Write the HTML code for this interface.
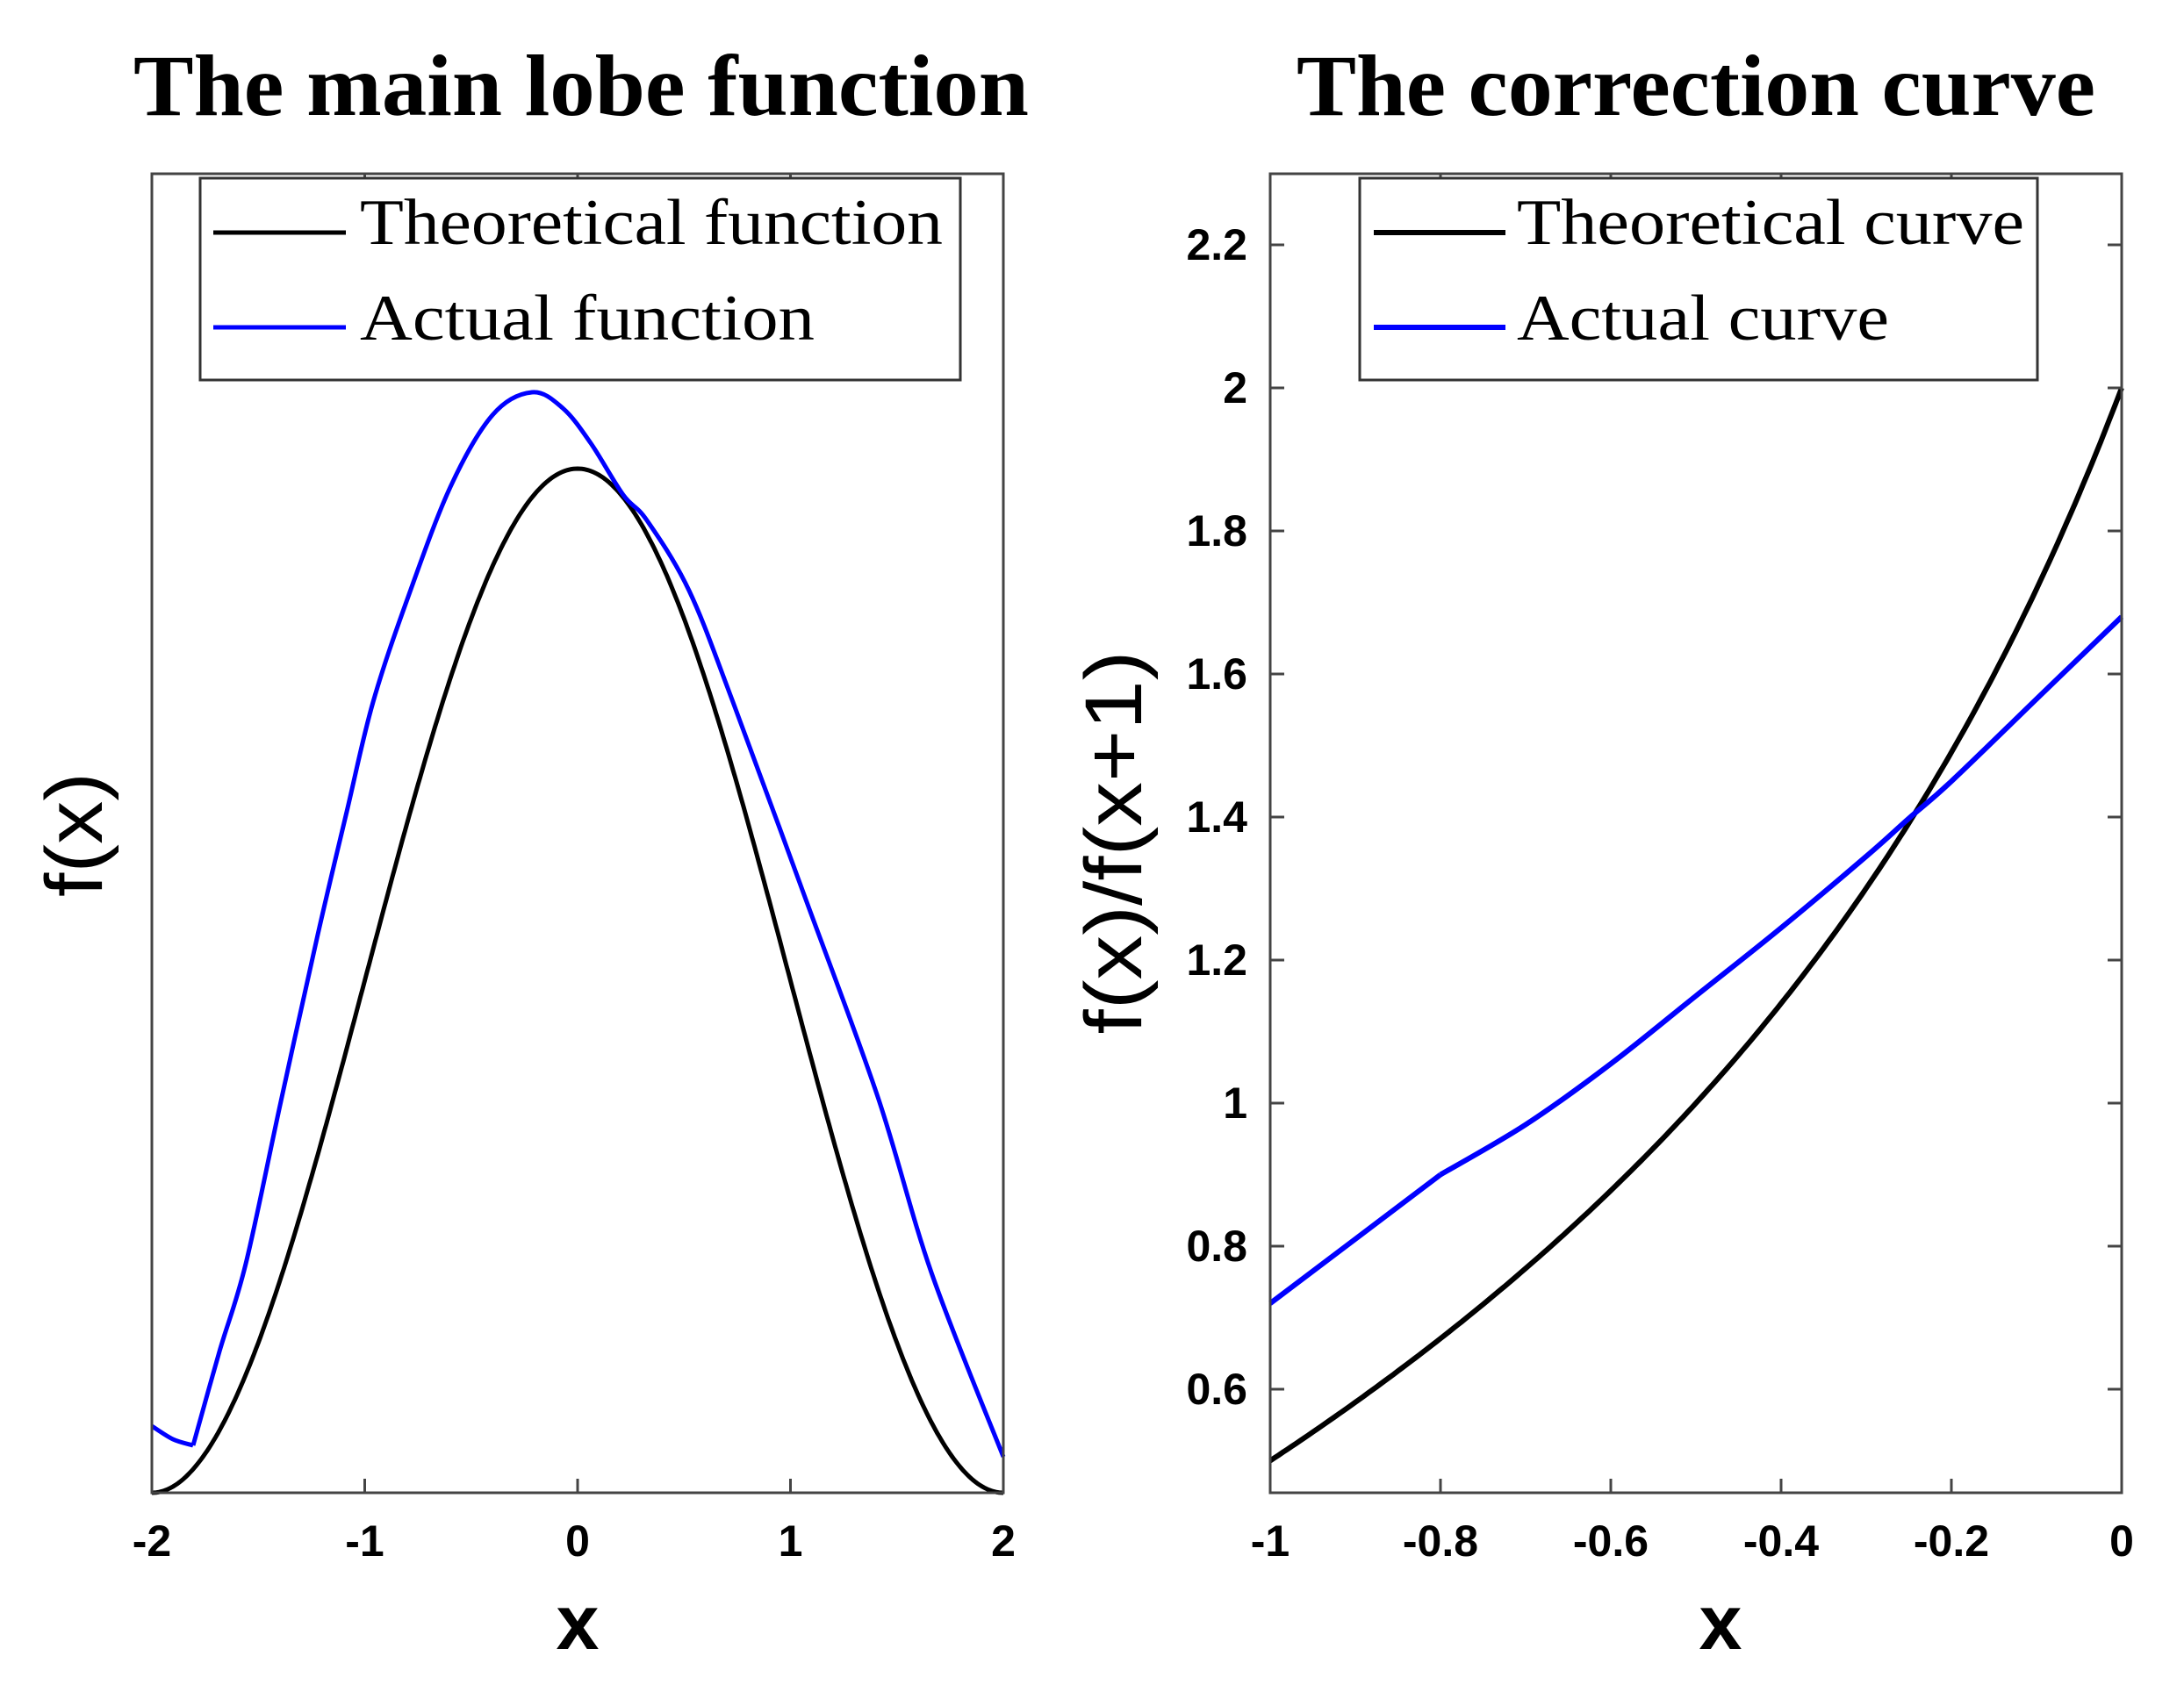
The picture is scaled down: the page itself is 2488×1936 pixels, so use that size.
<!DOCTYPE html>
<html><head><meta charset="utf-8"><style>
html,body{margin:0;padding:0;background:#fff;}
svg{display:block;}
</style></head><body>
<svg id="s" width="2488" height="1936" viewBox="0 0 2488 1936" xmlns="http://www.w3.org/2000/svg">
<rect width="2488" height="1936" fill="#fff"/>
<text x="662" y="131" font-family="Liberation Serif, serif" font-weight="bold" font-size="100" text-anchor="middle" textLength="1020" lengthAdjust="spacingAndGlyphs">The main lobe function</text>
<text x="1932" y="131" font-family="Liberation Serif, serif" font-weight="bold" font-size="100" text-anchor="middle" textLength="910" lengthAdjust="spacingAndGlyphs">The correction curve</text>

<g id="left"></g>
<g id="right"></g>

<rect x="173" y="198" width="970" height="1503" fill="none" stroke="#444" stroke-width="3"/>
<rect x="1447" y="198" width="970" height="1503" fill="none" stroke="#444" stroke-width="3"/>
<g id="ticks" stroke="#444" stroke-width="3"></g>

<rect x="228" y="203" width="866" height="230" fill="#fff" stroke="#333" stroke-width="3"/>
<line x1="243" y1="265" x2="394" y2="265" stroke="#000" stroke-width="5"/>
<line x1="243" y1="373" x2="394" y2="373" stroke="#00f" stroke-width="5"/>
<text x="410" y="278" font-family="Liberation Serif, serif" font-size="74" textLength="664" lengthAdjust="spacingAndGlyphs">Theoretical function</text>
<text x="410" y="387" font-family="Liberation Serif, serif" font-size="74" textLength="518" lengthAdjust="spacingAndGlyphs">Actual function</text>

<rect x="1549" y="203" width="772" height="230" fill="#fff" stroke="#333" stroke-width="3"/>
<line x1="1565" y1="265" x2="1715" y2="265" stroke="#000" stroke-width="6"/>
<line x1="1565" y1="373" x2="1715" y2="373" stroke="#00f" stroke-width="6"/>
<text x="1728" y="278" font-family="Liberation Serif, serif" font-size="74" textLength="578" lengthAdjust="spacingAndGlyphs">Theoretical curve</text>
<text x="1728" y="387" font-family="Liberation Serif, serif" font-size="74" textLength="424" lengthAdjust="spacingAndGlyphs">Actual curve</text>

<g id="labels" font-family="Liberation Sans Narrow, Liberation Sans, sans-serif" font-weight="bold" font-size="50" fill="#000"></g>

<text x="658" y="1879" font-family="Liberation Sans Narrow, Liberation Sans, sans-serif" font-weight="bold" font-size="88" text-anchor="middle">x</text>
<text x="1960" y="1879" font-family="Liberation Sans Narrow, Liberation Sans, sans-serif" font-weight="bold" font-size="88" text-anchor="middle">x</text>
<text transform="translate(116,951) rotate(-90)" font-family="Liberation Sans, sans-serif" font-size="92" text-anchor="middle" textLength="142" lengthAdjust="spacingAndGlyphs">f(x)</text>
<text transform="translate(1300,960) rotate(-90)" font-family="Liberation Sans, sans-serif" font-size="92" text-anchor="middle" textLength="437" lengthAdjust="spacingAndGlyphs">f(x)/f(x+1)</text>
</svg>
<script>
(function(){
var NS="http://www.w3.org/2000/svg";
function el(p,tag,attrs,txt){var e=document.createElementNS(NS,tag);for(var k in attrs)e.setAttribute(k,attrs[k]);if(txt!==undefined)e.textContent=txt;p.appendChild(e);return e;}
function cr(pts){
  var d="M"+pts[0][0]+","+pts[0][1];
  for(var i=0;i<pts.length-1;i++){
    var p0=pts[i-1]||pts[i],p1=pts[i],p2=pts[i+1],p3=pts[i+2]||p2;
    var c1x=p1[0]+(p2[0]-p0[0])/6,c1y=p1[1]+(p2[1]-p0[1])/6;
    var c2x=p2[0]-(p3[0]-p1[0])/6,c2y=p2[1]-(p3[1]-p1[1])/6;
    d+=" C"+c1x.toFixed(1)+","+c1y.toFixed(1)+" "+c2x.toFixed(1)+","+c2y.toFixed(1)+" "+p2[0]+","+p2[1];
  }
  return d;
}
var L=document.getElementById("left"),R=document.getElementById("right");
var d="";
for(var i=0;i<=400;i++){var x=-2+i*0.01;var v=Math.pow(Math.cos(Math.PI*x/4),2);var px=658+x*242.5,py=1701-1167*v;d+=(i?"L":"M")+px.toFixed(1)+","+py.toFixed(1);}
el(L,"path",{d:d,fill:"none",stroke:"#000","stroke-width":5});
var b1=[[173,1625],[197,1640],[220,1647]];
var b2=[[220,1647],[250,1540],[280,1440],[320,1255],[362,1065],[395,925],[425,800],[465,680],[513,555],[561,473],[606,447],[641,465],[673,505],[710,564],[737,593],[785,673],[835,800],[918,1025],[1000,1250],[1061,1450],[1143,1660]];
el(L,"path",{d:cr(b1)+" "+cr(b2),fill:"none",stroke:"#00f","stroke-width":5,"stroke-linejoin":"round"});
function rx(x){return 1447+(x+1)*970;}
function ry(v){return 442+(2-v)*815;}
d="";
for(i=0;i<=200;i++){var x=-1+i*0.005;var v=Math.pow(Math.cos(Math.PI*x/4),2)/Math.pow(Math.cos(Math.PI*(x+1)/4),2);d+=(i?"L":"M")+rx(x).toFixed(1)+","+ry(v).toFixed(1);}
el(R,"path",{d:d,fill:"none",stroke:"#000","stroke-width":6});
var bl=[[-1,.72],[-.8,.9]],bb=[[-.8,.9],[-.7,.97],[-.6,1.055],[-.5,1.15],[-.4,1.245],[-.3,1.345],[-.25,1.398],[-.2,1.45],[-.1,1.565],[0,1.68]];
function m(a){return a.map(function(p){return [+rx(p[0]).toFixed(1),+ry(p[1]).toFixed(1)];});}
el(R,"path",{d:cr(m(bl))+" "+cr(m(bb)),fill:"none",stroke:"#00f","stroke-width":6});
var T=document.getElementById("ticks"),G=document.getElementById("labels");
[-2,-1,0,1,2].forEach(function(x){var px=658+x*242.5;
  if(x>-2&&x<2){el(T,"line",{x1:px,y1:1701,x2:px,y2:1685});el(T,"line",{x1:px,y1:198,x2:px,y2:214});}
  el(G,"text",{x:px,y:1773,"text-anchor":"middle"},String(x));});
[-1,-0.8,-0.6,-0.4,-0.2,0].forEach(function(x){var px=rx(x);
  if(x>-1&&x<0){el(T,"line",{x1:px,y1:1701,x2:px,y2:1685});el(T,"line",{x1:px,y1:198,x2:px,y2:214});}
  el(G,"text",{x:px,y:1773,"text-anchor":"middle"},String(x));});
[0.6,0.8,1,1.2,1.4,1.6,1.8,2,2.2].forEach(function(v){var py=ry(v);
  el(T,"line",{x1:1447,y1:py,x2:1463,y2:py});el(T,"line",{x1:2417,y1:py,x2:2401,y2:py});
  el(G,"text",{x:1421,y:py+17,"text-anchor":"end"},String(v));});
})();
</script>
</body></html>
